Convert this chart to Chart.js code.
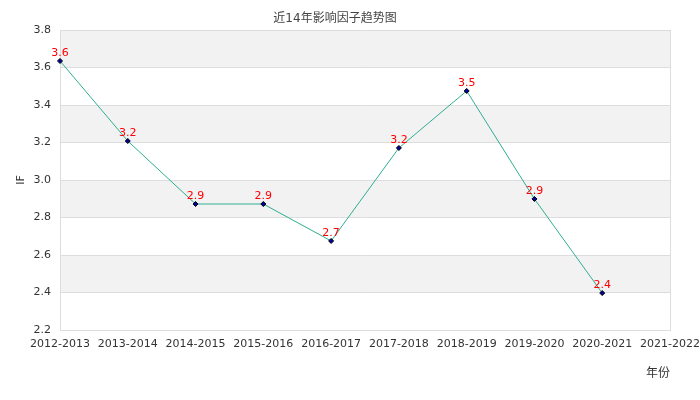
<!DOCTYPE html>
<html><head><meta charset="utf-8">
<script src="https://cdn.jsdelivr.net/npm/chart.js@4/dist/chart.umd.min.js"></script>
<style>html,body{margin:0;padding:0;background:#fff}#w{width:700px;height:400px}</style>
</head><body><div id="w"><canvas id="c"></canvas></div>
<script>
const categories = ['2012-2013','2013-2014','2014-2015','2015-2016','2016-2017','2017-2018','2018-2019','2019-2020','2020-2021','2021-2022'];
const ifValues = [3.635, 3.208, 2.872, 2.872, 2.675, 3.171, 3.475, 2.899, 2.397, null];
const bands = [[3.6,3.8],[3.2,3.4],[2.8,3.0],[2.4,2.6]];
const titleText = '近14年影响因子趋势图';
const yTitle = 'IF';
const xTitle = '年份';

const FONT = "'DejaVu Sans', 'Noto Sans CJK SC', sans-serif";

const bandBg = {
  id: 'bandBg',
  beforeDraw(chart){
    const {ctx, chartArea, scales} = chart;
    ctx.save();
    ctx.fillStyle = '#f2f2f2';
    bands.forEach(([a,b]) => {
      const y1 = scales.y.getPixelForValue(b), y2 = scales.y.getPixelForValue(a);
      ctx.fillRect(chartArea.left, y1, chartArea.right - chartArea.left, y2 - y1);
    });
    ctx.restore();
  }
};
const labelPlugin = {
  id: 'vlabels',
  afterDatasetsDraw(chart) {
    const {ctx} = chart;
    const meta = chart.getDatasetMeta(0);
    ctx.save();
    ctx.font = "11px " + FONT;
    ctx.fillStyle = '#ff0000';
    ctx.textAlign = 'center';
    ctx.textBaseline = 'bottom';
    meta.data.forEach((pt, i) => {
      const v = ifValues[i];
      if (v == null) return;
      ctx.fillText(v.toFixed(1), pt.x, pt.y - 2);
    });
    ctx.restore();
  }
};

new Chart(document.getElementById('c'), {
  type: 'line',
  data: {
    labels: categories,
    datasets: [{
      data: ifValues,
      borderColor: '#2eaf92',
      borderWidth: 1,
      pointStyle: 'rectRot',
      pointRadius: 2.5,
      pointBackgroundColor: '#0000a0',
      pointBorderColor: '#000',
      pointBorderWidth: 1,
      tension: 0,
      spanGaps: false
    }]
  },
  plugins: [bandBg, labelPlugin],
  options: {
    responsive: true,
    maintainAspectRatio: false,
    animation: false,
    layout: {padding: {left: 0, right: 30, top: 0, bottom: 0}},
    plugins: {
      legend: {display: false},
      tooltip: {enabled: false},
      title: {
        display: true, text: titleText, color: '#444',
        font: {size: 12, family: FONT, weight: 'normal'},
        padding: {top: 12, bottom: 3.6}
      }
    },
    scales: {
      x: {
        offset: false,
        grid: {
          drawTicks: false,
          color: (c) => (c.index === 0 || c.index === categories.length - 1) ? '#dddddd' : 'rgba(0,0,0,0)'
        },
        border: {color: '#dddddd'},
        ticks: {color: '#333', font: {size: 11, family: FONT}, padding: 8, maxRotation: 0, autoSkip: false},
        title: {display: true, text: xTitle, align: 'end', color: '#333', font: {size: 12, family: FONT}, padding: {top: 0, bottom: 19}},
        afterFit(s) { s.height = 70; s.paddingLeft = 0; s.paddingRight = 0; }
      },
      y: {
        min: 2.2, max: 3.8,
        grid: {drawTicks: false, color: '#dddddd'},
        border: {color: '#dddddd'},
        ticks: {stepSize: 0.2, color: '#333', font: {size: 11, family: FONT}, padding: 9, callback: v => v.toFixed(1)},
        title: {display: true, text: yTitle, color: '#333', font: {size: 11, family: FONT}, padding: {top: 15, bottom: 0}},
        afterFit(s) { s.width = 60; s.paddingTop = 0; s.paddingBottom = 0; }
      }
    }
  }
});
</script>
</body></html>
